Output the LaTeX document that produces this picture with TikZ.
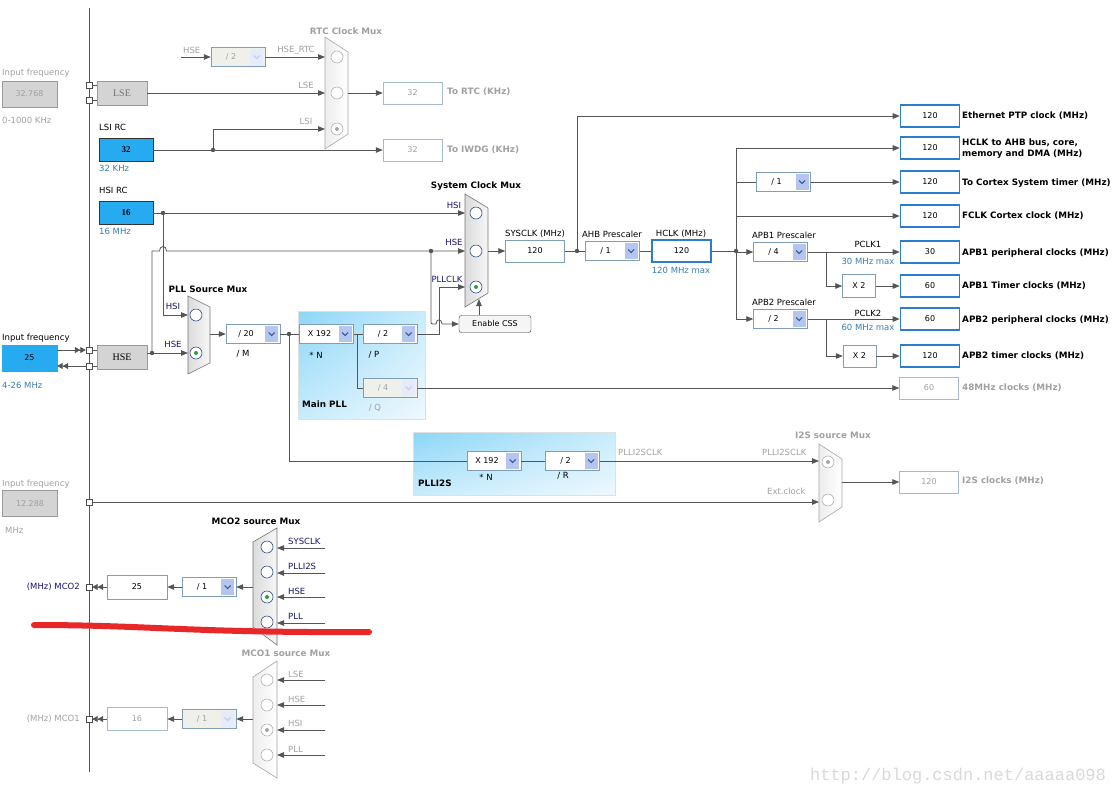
\documentclass[tikz,border=0pt]{standalone}
\usepackage{fontspec}
\setmainfont{DejaVu Sans}
\newfontfamily\boxserif{Liberation Serif}
\newfontfamily\markfont{Liberation Mono}
\usetikzlibrary{arrows.meta,calc,shadings}

\definecolor{wirecol}{RGB}{85,85,85}
\definecolor{boxcol}{RGB}{127,157,185}
\definecolor{outcol}{RGB}{45,125,205}
\definecolor{rcblue}{RGB}{38,170,240}
\definecolor{oscgray}{RGB}{212,212,212}
\definecolor{tealcol}{RGB}{55,125,170}
\definecolor{navycol}{RGB}{20,20,110}
\definecolor{dimcol}{RGB}{160,160,160}
\definecolor{dimfill}{RGB}{240,240,234}
\definecolor{btncol}{RGB}{180,198,240}
\definecolor{chevcol}{RGB}{60,85,150}
\definecolor{ringcol}{RGB}{50,80,130}
\definecolor{selgreen}{RGB}{40,160,60}
\definecolor{panelA}{RGB}{140,214,247}
\definecolor{panelB}{RGB}{200,236,252}
\definecolor{panelC}{RGB}{238,248,254}
\definecolor{scribred}{RGB}{232,40,40}

\tikzset{
	wire/.style={draw=wirecol, line width=0.8pt},
	feed/.style={wire, -{Triangle[length=7pt,width=5.5pt]}},
	twofeed/.style={wire, -{Triangle[length=5.5pt,width=6pt]Triangle[length=5.5pt,width=6pt]}},
	junct/.style={fill=wirecol},
	valbox/.style={draw=boxcol, fill=white, minimum width=59pt, minimum height=22pt, inner sep=0pt, font=\fontsize{8}{9}\selectfont},
	outbox/.style={valbox, draw=outcol, line width=1.6pt},
	dimbox/.style={valbox, draw=boxcol!70, text=dimcol},
	oscbox/.style={draw=black!40, fill=oscgray, minimum width=50pt, minimum height=24pt, inner sep=0pt, font=\boxserif\fontsize{10}{11}\selectfont},
	rcbox/.style={draw=black!80, fill=rcblue, minimum width=54pt, minimum height=23pt, inner sep=0pt, font=\boxserif\bfseries\fontsize{9}{10}\selectfont},
	freqbox/.style={draw=black!40, fill=oscgray, minimum width=55pt, minimum height=26pt, inner sep=0pt, text=dimcol, font=\fontsize{8}{9}\selectfont},
	padsq/.style={draw=black!70, fill=white, minimum size=6pt, inner sep=0pt},
	ring/.style={circle, draw=ringcol, fill=white, minimum size=12pt, inner sep=0pt, line width=0.6pt},
	dimring/.style={ring, draw=black!30},
	muxbody/.style={draw=black!55, line width=0.6pt, left color=black!14, right color=black!3},
	dimmux/.style={draw=black!35, line width=0.6pt, left color=black!7, right color=white},
	lbl/.style={inner sep=0pt, font=\fontsize{8.5}{10}\selectfont},
	navylbl/.style={lbl, text=navycol},
	dimlbl/.style={lbl, text=dimcol},
	teallbl/.style={lbl, text=tealcol},
	ttl/.style={inner sep=0pt, font=\bfseries\fontsize{8.8}{11}\selectfont},
	dimttl/.style={ttl, text=dimcol},
	outlbl/.style={ttl, anchor=west, align=left},
	live frame/.style={draw=boxcol, fill=white, minimum width=54pt, minimum height=19pt, inner sep=0pt},
	dim frame/.style={live frame, fill=dimfill},
	live ddtext/.style={lbl, font=\fontsize{8}{9}\selectfont},
	dim ddtext/.style={live ddtext, text=dimcol},
	live btn/.style={fill=btncol},
	dim btn/.style={fill=btncol!35},
	live chev/.style={draw=chevcol, line width=1.1pt},
	dim chev/.style={draw=chevcol!30, line width=1.1pt},
	pllpanel/.style={draw=black!12, upper left=panelA, upper right=panelB, lower left=panelB, lower right=panelC},
	cssbox/.style={draw=black!80, fill=black!4, rounded corners=2.5pt, minimum width=72pt, minimum height=17pt, inner sep=0pt, font=\fontsize{8}{9}\selectfont},
	scribble/.style={draw=scribred, line width=6pt, line cap=round}
}

% dropdown field: live/dim, name, position, text
\newcommand{\dropbox}[4]{%
	\node[#1 frame] (#2) at (#3) {};
	\node[#1 ddtext] at ([xshift=-7pt]#2.center) {#4};
	\fill[#1 btn] ([xshift=-15pt,yshift=-2pt]#2.north east) rectangle ([xshift=-2pt,yshift=2pt]#2.south east);
	\draw[#1 chev] ([xshift=-11.5pt,yshift=1.5pt]#2.east) -- ([xshift=-8.5pt,yshift=-1.5pt]#2.east) -- ([xshift=-5.5pt,yshift=1.5pt]#2.east);
}

\begin{document}
\begin{tikzpicture}[x=1pt,y=-1pt]
			%%%%% START %%%%%
			\useasboundingbox (0,0) rectangle (1114,796);
			
			\draw[wire] (89,8) -- (89,772);
			
			% LSE
			\node[dimlbl, anchor=west] (lsefreqtxt) at (2,73) {Input frequency};
			\node[freqbox] (lsefreq) at (29.5,94) {32.768};
			\node[dimlbl, anchor=west] (lserange) at (2,120) {0-1000 KHz};
			\node[oscbox, text=black!55] (lse) at (122,93) {LSE};
			\node[padsq] (lsepadA) at (89,85) {};
			\node[padsq] (lsepadB) at (89,100) {};
			\draw[wire] (lsepadA) -- (lsepadA -| lse.west);
			\draw[wire] (lsepadB) -- (lsepadB -| lse.west);
			
			% LSI
			\node[lbl, anchor=west] (lsitxt) at (99,127) {LSI RC};
			\node[rcbox] (lsi) at (126,150) {32};
			\node[teallbl, anchor=west] (lsikhz) at (99,168) {32 KHz};
			
			% RTC mux
			\node[dimttl] (rtcttl) at (346,31) {RTC Clock Mux};
			\draw[dimmux] (325,37) -- (348,52) -- (348,134) -- (325,149) -- cycle;
			\node[dimring] (rtcselA) at (337,57) {};
			\node[dimring] (rtcselB) at (337,93) {};
			\node[dimring] (rtcselC) at (337,129) {};
			\fill[black!35] (rtcselC) circle (2pt);
			\coordinate (rtcinA) at (325,57);
			\coordinate (rtcinB) at (325,93);
			\coordinate (rtcinC) at (325,129);
			\coordinate (rtcout) at (348,93);
			\node[dimlbl, anchor=west] (hsertctxt) at (183,50) {HSE};
			\coordinate (hsertcsrc) at (181,57);
			\dropbox{dim}{rtcdiv}{238,57}{/ 2}
			\node[dimlbl] (hsertclbl) at (296,50) {HSE\_RTC};
			\node[dimlbl] (lselbl) at (306,85) {LSE};
			\node[dimlbl] (lsilbl) at (306,121) {LSI};
			\node[dimbox] (rtcdest) at (412.5,93) {32};
			\node[dimbox] (iwdg) at (412.5,150) {32};
			\node[dimttl, anchor=west] (rtcdesttxt) at (447,92) {To RTC (KHz)};
			\node[dimttl, anchor=west] (iwdgtxt) at (447,150) {To IWDG (KHz)};
			\coordinate (lsitap) at (213,150);
			\draw[feed] (hsertcsrc) -- (rtcdiv);
			\draw[feed] (rtcdiv) -- (rtcinA);
			\draw[feed] (lse) -- (rtcinB);
			\draw[feed] (lsi) -- (iwdg);
			\draw[feed] (lsitap) |- (rtcinC);
			\fill[junct] (lsitap) circle (2.2pt);
			\draw[feed] (rtcout) -- (rtcdest);
			
			% HSI
			\node[lbl, anchor=west] (hsitxt) at (99,190) {HSI RC};
			\node[rcbox] (hsi) at (126,213) {16};
			\node[teallbl, anchor=west] (hsimhz) at (99,231) {16 MHz};
			\coordinate (hsitap) at (163,213);
			
			% HSE
			\node[lbl, anchor=west] (hsefreqtxt) at (2,338) {Input frequency};
			\node[rcbox, draw=rcblue, minimum width=55pt, minimum height=26pt, font=\fontsize{8}{9}\selectfont] (hsefreq) at (29.5,358) {25};
			\node[teallbl, anchor=west] (hserange) at (2,385) {4-26 MHz};
			\node[padsq] (hsepadA) at (89,350) {};
			\node[padsq] (hsepadB) at (89,366) {};
			\node[oscbox] (hse) at (122,357) {HSE};
			\draw[twofeed] (hsefreq.east |- hsepadA) -- (hsepadA);
			\draw[twofeed] (hsepadB) -- (hsefreq.east |- hsepadB);
			\draw[wire] (hsepadA) -- (hsepadA -| hse.west);
			\draw[wire] (hsepadB) -- (hsepadB -| hse.west);
			\coordinate (hsetap) at (152,353);
			
			% PLL source mux
			\node[ttl] (pllsrcttl) at (208,289) {PLL Source Mux};
			\draw[muxbody] (188,296) -- (210,307) -- (210,363) -- (188,374) -- cycle;
			\node[ring] (pllselA) at (196,315) {};
			\node[ring] (pllselB) at (196,353) {};
			\fill[selgreen] (pllselB) circle (2pt);
			\coordinate (pllinA) at (188,315);
			\coordinate (pllinB) at (188,353);
			\coordinate (pllsrcout) at (210,334);
			\node[navylbl] (pllhsilbl) at (173,306) {HSI};
			\node[navylbl] (pllhselbl) at (173,344) {HSE};
			
			% Main PLL
			\shade[pllpanel] (298,311) rectangle (425,419);
			\dropbox{live}{pllm}{253,334}{/ 20}
			\node[lbl] (pllmlbl) at (243,354) {/ M};
			\dropbox{live}{plln}{326.5,334}{X 192}
			\node[lbl] (pllnlbl) at (316,355) {* N};
			\dropbox{live}{pllp}{390,334}{/ 2}
			\node[lbl] (pllplbl) at (374,355) {/ P};
			\dropbox{dim}{pllq}{390,388}{/ 4}
			\node[dimlbl] (pllqlbl) at (375,408) {/ Q};
			\node[ttl, anchor=west] (mainplltxt) at (302,404) {Main PLL};
			\coordinate (mtap) at (289,334);
			\coordinate (ntap) at (357,334);
			\coordinate (pllclkbend) at (439,287);
			
			% System clock mux
			\node[ttl] (systtl) at (476,186) {System Clock Mux};
			\draw[muxbody] (465,194) -- (488,208) -- (488,293) -- (465,307) -- cycle;
			\node[ring] (sysselA) at (476,213) {};
			\node[ring] (sysselB) at (476,251) {};
			\node[ring] (sysselC) at (476,287) {};
			\fill[selgreen] (sysselC) circle (2pt);
			\coordinate (sysinA) at (465,213);
			\coordinate (sysinB) at (465,251);
			\coordinate (sysinC) at (465,287);
			\coordinate (sysout) at (488,251);
			\coordinate (sysbottom) at (479,299);
			\node[navylbl] (syshsilbl) at (454,205) {HSI};
			\node[navylbl] (syshselbl) at (454,242) {HSE};
			\node[navylbl] (syspllbl) at (447,279) {PLLCLK};
			\node[cssbox] (css) at (495,324) {Enable CSS};
			\coordinate (hsetapB) at (431,251);
			
			\draw[feed] (hsi) -- (sysinA);
			\draw[feed] (hsitap) |- (pllinA);
			\fill[junct] (hsitap) circle (2.2pt);
			\draw[feed] (hse.east |- pllinB) -- (pllinB);
			\draw[feed] (hsetap) -- (152,251) -- (159.5,251) .. controls (159.5,245) and (166.5,245) .. (166.5,251) -- (sysinB);
			\fill[junct] (hsetap) circle (2.2pt);
			\draw[feed] (pllsrcout) -- (pllm);
			\draw[wire] (pllm) -- (plln);
			\fill[junct] (mtap) circle (2.2pt);
			\draw[wire] (plln) -- (pllp);
			\draw[wire] (ntap) |- (pllq);
			\draw[feed] (pllp) -| (pllclkbend) -- (sysinC);
			\draw[feed] (hsetapB) -- (431,320) .. controls (431,324) .. (435,324) -- (436,324) .. controls (436,318.5) and (442,318.5) .. (442,324) -- (css);
			\fill[junct] (hsetapB) circle (2.2pt);
			\draw[feed] (css.north -| sysbottom) -- (sysbottom);
			
			% SYSCLK, AHB, HCLK
			\node[valbox] (sysclk) at (535,251) {120};
			\node[lbl] (sysclklbl) at (535,234) {SYSCLK (MHz)};
			\dropbox{live}{ahbdiv}{612.5,251}{/ 1}
			\node[lbl] (ahblbl) at (612,234) {AHB Prescaler};
			\node[outbox] (hclk) at (681.5,251) {120};
			\node[lbl] (hclklbl) at (681,234) {HCLK (MHz)};
			\node[teallbl] (hclkmax) at (681,270) {120 MHz max};
			\coordinate (sysclktap) at (577,251);
			\coordinate (hclktap) at (736,251);
			\draw[feed] (sysout) -- (sysclk);
			\draw[wire] (sysclk) -- (ahbdiv);
			\draw[wire] (ahbdiv) -- (hclk);
			\draw[wire] (hclk) -- (hclktap);
			
			% outputs
			\node[outbox] (ethclk) at (930,116) {120};
			\node[outlbl] (ethtxt) at (962,116) {Ethernet PTP clock (MHz)};
			\node[outbox] (ahbclk) at (930,148) {120};
			\node[outlbl] (ahbtxt) at (962,149) {HCLK to AHB bus, core,\\memory and DMA (MHz)};
			\dropbox{live}{tickdiv}{783.5,182}{/ 1}
			\node[outbox] (tickclk) at (930,182) {120};
			\node[outlbl] (ticktxt) at (962,183) {To Cortex System timer (MHz)};
			\node[outbox] (fclk) at (930,216) {120};
			\node[outlbl] (fclktxt) at (962,216) {FCLK Cortex clock (MHz)};
			
			\dropbox{live}{apb1div}{780.5,252}{/ 4}
			\node[lbl] (apb1lbl) at (784,235) {APB1 Prescaler};
			\node[lbl] (pclk1lbl) at (868,244) {PCLK1};
			\node[teallbl] (pclk1max) at (868,261) {30 MHz max};
			\node[outbox] (apb1clk) at (930,252) {30};
			\node[outlbl] (apb1txt) at (962,253) {APB1 peripheral clocks (MHz)};
			\node[valbox, minimum width=33pt, minimum height=23pt] (apb1mul) at (859,286) {X 2};
			\node[outbox] (apb1tim) at (930,286) {60};
			\node[outlbl] (apb1timtxt) at (962,286) {APB1 Timer clocks (MHz)};
			\coordinate (pclk1tap) at (826,252);
			
			\dropbox{live}{apb2div}{780.5,319}{/ 2}
			\node[lbl] (apb2lbl) at (784,302) {APB2 Prescaler};
			\node[lbl] (pclk2lbl) at (868,313) {PCLK2};
			\node[teallbl] (pclk2max) at (868,327) {60 MHz max};
			\node[outbox] (apb2clk) at (930,319) {60};
			\node[outlbl] (apb2txt) at (962,320) {APB2 peripheral clocks (MHz)};
			\node[valbox, minimum width=33pt, minimum height=22pt] (apb2mul) at (859.5,356) {X 2};
			\node[outbox] (apb2tim) at (930,356) {120};
			\node[outlbl] (apb2timtxt) at (962,356) {APB2 timer clocks (MHz)};
			\coordinate (pclk2tap) at (826,319);
			
			\node[dimbox] (usb48) at (929,388) {60};
			\node[outlbl, text=dimcol] (usb48txt) at (962,388) {48MHz clocks (MHz)};
			
			\draw[feed] (sysclktap) |- (ethclk);
			\fill[junct] (sysclktap) circle (2.2pt);
			\draw[feed] (hclktap) |- (ahbclk);
			\draw[wire] (hclktap) |- (tickdiv);
			\draw[feed] (tickdiv) -- (tickclk);
			\draw[feed] (hclktap) |- (fclk);
			\draw[feed] (hclktap) |- (apb1div);
			\draw[feed] (hclktap) |- (apb2div);
			\fill[junct] (hclktap) circle (2.2pt);
			\draw[feed] (apb1div) -- (apb1clk);
			\draw[feed] (pclk1tap) |- (apb1mul);
			\draw[feed] (apb1mul) -- (apb1tim);
			\draw[feed] (apb2div) -- (apb2clk);
			\draw[feed] (pclk2tap) |- (apb2mul);
			\draw[feed] (apb2mul) -- (apb2tim);
			\draw[feed] (pllq) -- (usb48);
			
			% PLLI2S
			\shade[pllpanel] (413,432) rectangle (615,495);
			\dropbox{live}{i2sn}{494,461}{X 192}
			\dropbox{live}{i2sr}{572.5,461}{/ 2}
			\node[lbl] (i2snlbl) at (486,477) {* N};
			\node[lbl] (i2srlbl) at (563,476) {/ R};
			\node[ttl, anchor=west] (plli2stxt) at (418,483) {PLLI2S};
			\node[dimlbl, anchor=west] (i2sclkA) at (618,452) {PLLI2SCLK};
			\node[dimlbl, anchor=west] (i2sclkB) at (762,452) {PLLI2SCLK};
			
			% I2S mux
			\node[dimttl] (i2sttl) at (833,435) {I2S source Mux};
			\draw[dimmux] (819,444) -- (842,459) -- (842,507) -- (819,522) -- cycle;
			\node[dimring] (i2sselA) at (828,462) {};
			\node[dimring] (i2sselB) at (828,500) {};
			\fill[black!35] (i2sselA) circle (2pt);
			\coordinate (i2sinA) at (819,461);
			\coordinate (i2sinB) at (819,502);
			\coordinate (i2sout) at (842,482);
			\node[dimbox] (i2sclk) at (929,482) {120};
			\node[outlbl, text=dimcol] (i2stxt) at (962,481) {I2S clocks (MHz)};
			\node[dimlbl, anchor=west] (extlbl) at (767,491) {Ext.clock};
			
			\node[dimlbl, anchor=west] (extfreqtxt) at (2,484) {Input frequency};
			\node[freqbox] (extfreq) at (30,503.5) {12.288};
			\node[dimlbl, anchor=west] (extunit) at (5,530) {MHz};
			\node[padsq] (extpad) at (89,502) {};
			
			\draw[wire] (mtap) |- (i2sn);
			\draw[wire] (i2sn) -- (i2sr);
			\draw[feed] (i2sr) -- (i2sinA);
			\draw[feed] (extpad) -- (i2sinB);
			\draw[feed] (i2sout) -- (i2sclk);
			
			% MCO2
			\node[ttl] (mco2ttl) at (256,521) {MCO2 source Mux};
			\draw[muxbody] (253,542) -- (277,528) -- (277,645) -- (253,627) -- cycle;
			\node[ring] (mco2selA) at (267,547) {};
			\node[ring] (mco2selB) at (267,572) {};
			\node[ring] (mco2selC) at (267,597) {};
			\node[ring] (mco2selD) at (267,622) {};
			\fill[selgreen] (mco2selC) circle (2pt);
			\node[navylbl, anchor=west] (mco2lblA) at (288,541) {SYSCLK};
			\node[navylbl, anchor=west] (mco2lblB) at (288,566) {PLLI2S};
			\node[navylbl, anchor=west] (mco2lblC) at (288,591) {HSE};
			\node[navylbl, anchor=west] (mco2lblD) at (288,616) {PLL};
			\coordinate (mco2srcA) at (325,548);
			\coordinate (mco2srcB) at (325,573);
			\coordinate (mco2srcC) at (325,597);
			\coordinate (mco2srcD) at (325,623);
			\coordinate (mco2inA) at (277,548);
			\coordinate (mco2inB) at (277,573);
			\coordinate (mco2inC) at (277,597);
			\coordinate (mco2inD) at (277,623);
			\coordinate (mco2out) at (253,587);
			\dropbox{live}{mco2div}{209,587}{/ 1}
			\node[valbox, minimum width=60pt, minimum height=24pt] (mco2val) at (137,587) {25};
			\node[padsq] (mco2pad) at (89,587) {};
			\node[navylbl, anchor=east] (mco2txt) at (80,587) {(MHz) MCO2};
			\draw[feed] (mco2srcA) -- (mco2inA);
			\draw[feed] (mco2srcB) -- (mco2inB);
			\draw[feed] (mco2srcC) -- (mco2inC);
			\draw[feed] (mco2srcD) -- (mco2inD);
			\draw[feed] (mco2out) -- (mco2div);
			\draw[feed] (mco2div) -- (mco2val);
			\draw[twofeed] (mco2val) -- (mco2pad);
			
			% MCO1
			\node[dimttl] (mco1ttl) at (286,653) {MCO1 source Mux};
			\draw[dimmux] (253,677) -- (277,661) -- (277,778) -- (253,763) -- cycle;
			\node[dimring] (mco1selA) at (267,680) {};
			\node[dimring] (mco1selB) at (267,705) {};
			\node[dimring] (mco1selC) at (267,730) {};
			\node[dimring] (mco1selD) at (267,755) {};
			\fill[black!35] (mco1selC) circle (2pt);
			\node[dimlbl, anchor=west] (mco1lblA) at (288,674) {LSE};
			\node[dimlbl, anchor=west] (mco1lblB) at (288,699) {HSE};
			\node[dimlbl, anchor=west] (mco1lblC) at (288,723) {HSI};
			\node[dimlbl, anchor=west] (mco1lblD) at (288,749) {PLL};
			\coordinate (mco1srcA) at (325,680);
			\coordinate (mco1srcB) at (325,705);
			\coordinate (mco1srcC) at (325,730);
			\coordinate (mco1srcD) at (325,755);
			\coordinate (mco1inA) at (277,680);
			\coordinate (mco1inB) at (277,705);
			\coordinate (mco1inC) at (277,730);
			\coordinate (mco1inD) at (277,755);
			\coordinate (mco1out) at (253,719);
			\dropbox{dim}{mco1div}{209,719}{/ 1}
			\node[dimbox, minimum width=60pt, minimum height=23pt] (mco1val) at (137,719) {16};
			\node[padsq] (mco1pad) at (89,719) {};
			\node[dimlbl, anchor=east] (mco1txt) at (80,719) {(MHz) MCO1};
			\draw[feed] (mco1srcA) -- (mco1inA);
			\draw[feed] (mco1srcB) -- (mco1inB);
			\draw[feed] (mco1srcC) -- (mco1inC);
			\draw[feed] (mco1srcD) -- (mco1inD);
			\draw[feed] (mco1out) -- (mco1div);
			\draw[feed] (mco1div) -- (mco1val);
			\draw[twofeed] (mco1val) -- (mco1pad);
			
			% red mark and watermark
			\draw[scribble] (34,625) .. controls (150,625) and (190,633) .. (369,632);
			\node[text=black!15, inner sep=0pt, font=\markfont\fontsize{17}{17}\selectfont] (watermark) at (958,776) {http://blog.csdn.net/aaaaa098};
			
			%%%%% END %%%%%
\end{tikzpicture}
\end{document}
